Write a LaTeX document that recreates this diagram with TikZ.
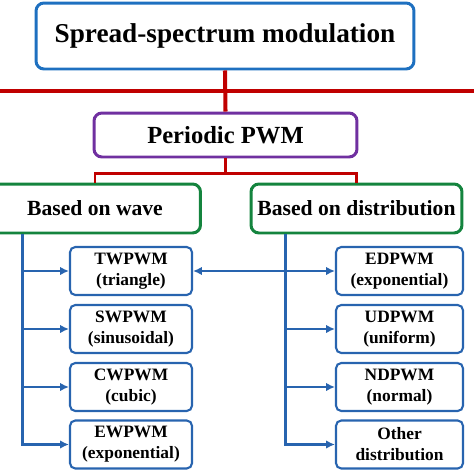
\documentclass[tikz,border=0pt]{standalone}
\usepackage{fontspec}
\setmainfont{Liberation Serif}
\usetikzlibrary{arrows.meta}
\definecolor{topblue}{RGB}{30,112,192}
\definecolor{linered}{RGB}{192,0,0}
\definecolor{boxpurple}{RGB}{112,48,160}
\definecolor{boxgreen}{RGB}{20,132,62}
\definecolor{leafblue}{RGB}{40,100,175}
\begin{document}
\begin{tikzpicture}[x=0.02cm,y=-0.02cm,
  treebox/.style={draw,rounded corners=4.5pt,inner sep=0pt,align=center},
  topbox/.style={treebox,draw=topblue,line width=1.7pt,minimum width=7.56cm,minimum height=1.32cm,
    font=\fontsize{15.5}{18}\selectfont\bfseries},
  midbox/.style={treebox,draw=boxpurple,line width=1.7pt,minimum width=5.26cm,minimum height=0.88cm,
    font=\fontsize{14}{16}\selectfont\bfseries},
  grpbox/.style={treebox,draw=boxgreen,line width=1.7pt,minimum width=4.22cm,minimum height=0.98cm,
    font=\fontsize{12.3}{14}\selectfont\bfseries},
  leafbox/.style={treebox,draw=leafblue,line width=1.2pt,rounded corners=3pt,minimum height=0.96cm,
    font=\fontsize{9.9}{12}\selectfont\bfseries},
  redbar/.style={draw=linered,line width=2.3pt},
  redlink/.style={draw=linered,line width=1.7pt},
  link/.style={draw=leafblue,line width=1.2pt,-{Latex[length=5pt,width=4.8pt]}}]
\useasboundingbox (0,0) rectangle (474,474);
\clip (0,0) rectangle (474,474);

% top levels
\node[topbox] (ssm) at (225,36) {Spread-spectrum modulation};
\node[midbox] (ppwm) at (225.5,135) {Periodic PWM};
\node[grpbox] (wave) at (95,208.5) {Based on wave};
\node[grpbox] (dist) at (356.5,208.5) {Based on distribution};

% leaves
\foreach \name/\y/\txt in {tw/271/{TWPWM\\(triangle)},sw/329/{SWPWM\\(sinusoidal)},
    cw/387/{CWPWM\\(cubic)},ew/444.5/{EWPWM\\(exponential)}}
  \node[leafbox,minimum width=2.44cm] (\name) at (131,\y) {\txt};
\foreach \name/\y/\txt in {ed/271/{EDPWM\\(exponential)},ud/329/{UDPWM\\(uniform)},
    nd/387/{NDPWM\\(normal)},ot/444.5/{Other\\distribution}}
  \node[leafbox,minimum width=2.54cm] (\name) at (399.5,\y) {\txt};

% red lines
\coordinate (barL) at (0,90.7);
\coordinate (barR) at (474,90.7);
\draw[redbar] (barL) -- (barR);
\draw[redbar] (ssm.south) -- (ppwm.north);
\draw[redlink] (ppwm.south) -- ++(0,15) -| (wave.north);
\draw[redlink] (ppwm.south) -- ++(0,15) -| (dist.north);

% blue links
\coordinate (wtop) at ([xshift=0.69cm]wave.south west);
\coordinate (dtop) at ([xshift=0.72cm]dist.south west);
\draw[link] (wtop) |- (ew.west);
\draw[link] (dtop) |- (ot.west);
\foreach \leaf in {tw,sw,cw}
  \draw[link] (wtop |- \leaf.west) -- (\leaf.west);
\foreach \leaf in {ud,nd}
  \draw[link] (dtop |- \leaf.west) -- (\leaf.west);
\draw[link,{Latex[length=5pt,width=4.8pt]}-{Latex[length=5pt,width=4.8pt]}] (tw.east) -- (ed.west);
\end{tikzpicture}
\end{document}
